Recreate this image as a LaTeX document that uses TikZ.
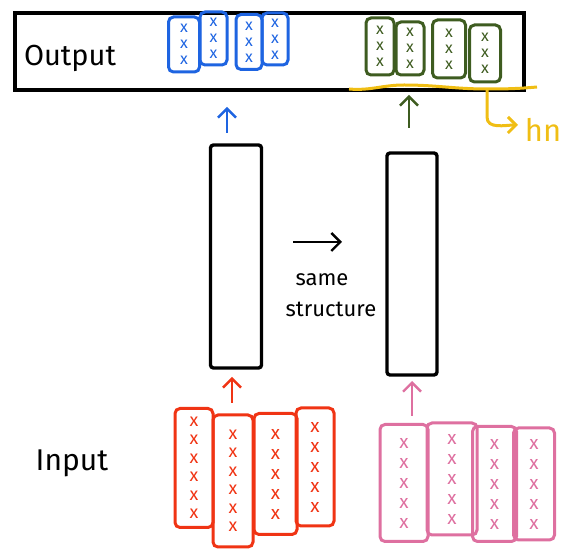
\documentclass[tikz,border=0pt]{standalone}
\usepackage{fontspec}
\setmainfont{Fira Sans}
\usetikzlibrary{arrows.meta}
\definecolor{penblue}{RGB}{30,100,225}
\definecolor{pengreen}{RGB}{62,92,32}
\definecolor{penyellow}{RGB}{240,190,20}
\definecolor{penred}{RGB}{240,52,20}
\definecolor{penpink}{RGB}{222,112,160}
\tikzset{
  cell/.style={draw, line width=3pt, rounded corners=5pt, inner sep=0pt, align=center},
  small/.style={font=\fontsize{16}{16}\selectfont},
  big/.style={font=\fontsize{18}{18.5}\selectfont},
  tall/.style={font=\fontsize{19}{20}\selectfont},
  layer/.style={draw, line width=3.4pt, rounded corners=3pt, minimum width=51pt},
  flow/.style={-{Straight Barb[length=9pt,width=18pt]}, line width=2.4pt},
  hand/.style={font=\fontsize{22}{24}\selectfont}
}
\begin{document}
\begin{tikzpicture}[x=1pt, y=-1pt]
  \useasboundingbox (0,0) rectangle (574,553);
  % output sequence
  \node (out) [draw, line width=3.4pt, minimum width=509pt, minimum height=77pt] at (269.5,51.5) {};
  \node (outlbl) [hand, font=\fontsize{29}{31}\selectfont] at (70,58) {Output};
  \node (b1) [cell, small, penblue, minimum width=31pt, minimum height=55pt] at (184,44.5) {x\\x\\x};
  \node (b2) [cell, small, penblue, minimum width=27pt, minimum height=53pt] at (213.5,38.5) {x\\x\\x};
  \node (b3) [cell, small, penblue, minimum width=26pt, minimum height=55pt] at (249,42) {x\\x\\x};
  \node (b4) [cell, small, penblue, minimum width=26pt, minimum height=52pt] at (275,39) {x\\x\\x};
  \node (g1) [cell, small, pengreen, minimum width=28pt, minimum height=57pt] at (380,46.5) {x\\x\\x};
  \node (g2) [cell, small, pengreen, minimum width=28pt, minimum height=53pt] at (410,48.5) {x\\x\\x};
  \node (g3) [cell, small, pengreen, minimum width=33pt, minimum height=58pt] at (449,49) {x\\x\\x};
  \node (g4) [cell, small, pengreen, minimum width=31pt, minimum height=57pt] at (485,53.5) {x\\x\\x};
  % hidden state
  \coordinate (ya) at (349,89);
  \coordinate (yb) at (404,85);
  \coordinate (yc) at (487,89);
  \coordinate (yd) at (537,87);
  \coordinate (ye) at (518,125);
  \node (hn) [hand, penyellow, font=\fontsize{31}{33}\selectfont] at (543,130) {hn};
  \draw[penyellow, line width=3pt] (ya) to[out=-5,in=180] (yb) to[out=0,in=180] (yc) to[out=0,in=185] (yd);
  \draw[penyellow, line width=3pt, -{Straight Barb[length=8pt,width=16pt]}] (yc) -- ++(0,28) to[out=-90,in=180] (ye);
  % encoder and decoder
  \node (enc) [layer, minimum height=223pt] at (236,256.5) {};
  \node (dec) [layer, minimum width=50pt, minimum height=222pt] at (412,264) {};
  \node (same) [hand] at (322,280) {same};
  \node (struct) [hand] at (331,309) {structure};
  \coordinate (ma) at (293,242);
  \coordinate (mb) at (342,242);
  \draw[flow] (ma) -- (mb);
  % input sequences
  \node (inlbl) [hand, font=\fontsize{30}{32}\selectfont] at (72,463) {Input};
  \node (r1) [cell, big, penred, minimum width=38pt, minimum height=119pt] at (194,468) {x\\x\\x\\x\\x\\x};
  \node (r2) [cell, big, penred, minimum width=40pt, minimum height=132pt] at (233,481) {x\\x\\x\\x\\x\\x};
  \node (r3) [cell, tall, penred, minimum width=43pt, minimum height=121pt] at (275.5,474) {x\\x\\x\\x\\x};
  \node (r4) [cell, tall, penred, minimum width=38pt, minimum height=118pt] at (315,467) {x\\x\\x\\x\\x};
  \node (p1) [cell, tall, penpink, minimum width=48pt, minimum height=117pt] at (404,483) {x\\x\\x\\x\\x};
  \node (p2) [cell, tall, penpink, minimum width=50pt, minimum height=112pt] at (452,479) {x\\x\\x\\x\\x};
  \node (p3) [cell, tall, penpink, minimum width=44pt, minimum height=115pt] at (494.5,484) {x\\x\\x\\x\\x};
  \node (p4) [cell, tall, penpink, minimum width=41pt, minimum height=112pt] at (534,484) {x\\x\\x\\x\\x};
  % arrows between parts
  \coordinate (ba) at (227,133);
  \coordinate (bb) at (227,107);
  \coordinate (ga) at (409,128);
  \coordinate (gb) at (409,95);
  \coordinate (ra) at (232,403);
  \coordinate (rb) at (232,377);
  \coordinate (pa) at (412,416);
  \coordinate (pb) at (412,381);
  \path[flow, penblue]  (ba) edge (bb);
  \path[flow, pengreen] (ga) edge (gb);
  \path[flow, penred]   (ra) edge (rb);
  \path[flow, penpink]  (pa) edge (pb);
\end{tikzpicture}
\end{document}
